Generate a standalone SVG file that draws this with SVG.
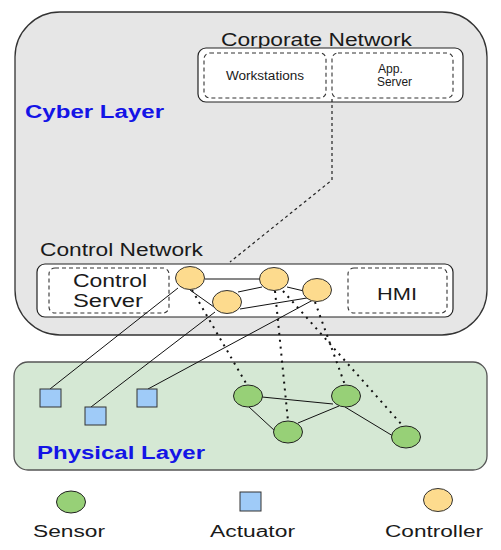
<svg xmlns="http://www.w3.org/2000/svg" width="501" height="550" viewBox="0 0 501 550">
<style>
.layer-cyber{fill:#e6e6e6;stroke:#333;stroke-width:1.3}
.layer-phys{fill:#d5e8d4;stroke:#555;stroke-width:1.3}
.box{fill:#fff;stroke:#222;stroke-width:1.2}
.dbox{fill:#fff;stroke:#333;stroke-width:1.1;stroke-dasharray:4 3}
.t{font-family:"Liberation Sans",Arial,sans-serif;fill:#1a1a1a}
.tb{font-family:"Liberation Sans",Arial,sans-serif;font-weight:bold;fill:#1414e6;font-size:18px}
.ctrl{fill:#fddb8e;stroke:#333;stroke-width:1}
.sens{fill:#97d077;stroke:#222;stroke-width:1}
.act{fill:#9fcbf8;stroke:#333;stroke-width:1}
.solid{stroke:#111;stroke-width:1;fill:none}
.dot{stroke:#111;stroke-width:2;fill:none;stroke-dasharray:2 5}
.dash{stroke:#222;stroke-width:1.2;fill:none;stroke-dasharray:3 3}
</style>
<g id="cyber-layer">
<rect class="layer-cyber" x="15" y="12" width="472" height="323" rx="45" ry="45"/>
<text class="tb" x="25" y="118" textLength="139" lengthAdjust="spacingAndGlyphs">Cyber Layer</text>
</g>
<g id="physical-layer">
<rect class="layer-phys" x="14" y="362" width="473" height="108" rx="14" ry="14"/>
<text class="tb" x="37" y="459" textLength="168" lengthAdjust="spacingAndGlyphs">Physical Layer</text>
</g>
<g id="corporate-network">
<text class="t" x="221" y="46" font-size="17.5" textLength="191" lengthAdjust="spacingAndGlyphs">Corporate Network</text>
<rect class="box" x="198" y="48" width="265" height="54" rx="8"/>
</g>
<g id="workstations">
<rect class="dbox" x="204" y="53" width="122" height="45" rx="6"/>
<text class="t" x="226" y="80" font-size="12" textLength="78" lengthAdjust="spacingAndGlyphs">Workstations</text>
</g>
<g id="app-server">
<rect class="dbox" x="332" y="53" width="121" height="45" rx="6"/>
<text class="t" x="378" y="73" font-size="12" textLength="25" lengthAdjust="spacingAndGlyphs">App.</text>
<text class="t" x="377" y="86" font-size="12" textLength="35" lengthAdjust="spacingAndGlyphs">Server</text>
</g>
<g id="control-network">
<text class="t" x="40" y="256" font-size="17.5" textLength="163" lengthAdjust="spacingAndGlyphs">Control Network</text>
<rect class="box" x="37" y="264" width="416" height="53" rx="8"/>
</g>
<g id="control-server">
<rect class="dbox" x="49" y="268" width="120" height="45" rx="6"/>
<text class="t" x="73" y="287" font-size="18" textLength="74" lengthAdjust="spacingAndGlyphs">Control</text>
<text class="t" x="73" y="307" font-size="18" textLength="70" lengthAdjust="spacingAndGlyphs">Server</text>
</g>
<g id="hmi">
<rect class="dbox" x="348" y="268" width="99" height="45" rx="6"/>
<text class="t" x="377" y="300" font-size="16" textLength="40" lengthAdjust="spacingAndGlyphs">HMI</text>
</g>
<g id="connectors">
<path class="dash" d="M332,99 V180 L230,262"/>
<line class="solid" x1="205" y1="279" x2="260" y2="279"/>
<line class="solid" x1="190" y1="290" x2="214" y2="307"/>
<line class="solid" x1="238" y1="292" x2="262" y2="287"/>
<line class="solid" x1="240" y1="309" x2="307" y2="298"/>
<line class="solid" x1="287" y1="287" x2="304" y2="291"/>
<line class="solid" x1="178" y1="288" x2="50" y2="389"/>
<line class="solid" x1="215" y1="312" x2="91" y2="407"/>
<line class="solid" x1="313" y1="300" x2="148" y2="389"/>
<line class="dot" x1="192" y1="290" x2="247" y2="385"/>
<line class="dot" x1="275" y1="291" x2="288" y2="421"/>
<line class="dot" x1="283" y1="291" x2="403" y2="426"/>
<line class="dot" x1="315" y1="302" x2="345" y2="385"/>
<line class="solid" x1="262" y1="397" x2="333" y2="404"/>
<line class="solid" x1="249" y1="407" x2="275" y2="431"/>
<line class="solid" x1="298" y1="423" x2="339" y2="406"/>
<line class="solid" x1="345" y1="407" x2="393" y2="436"/>
</g>
<g id="controller-1"><ellipse class="ctrl" cx="190" cy="278" rx="14.5" ry="11.5"/></g>
<g id="controller-2"><ellipse class="ctrl" cx="274" cy="279" rx="14.5" ry="11.5"/></g>
<g id="controller-3"><ellipse class="ctrl" cx="227" cy="302" rx="14.5" ry="11.5"/></g>
<g id="controller-4"><ellipse class="ctrl" cx="317" cy="290" rx="14.5" ry="11.5"/></g>
<g id="actuator-1"><rect class="act" x="40" y="389" width="21" height="18"/></g>
<g id="actuator-2"><rect class="act" x="85" y="407" width="21" height="18"/></g>
<g id="actuator-3"><rect class="act" x="137" y="389" width="20" height="18"/></g>
<g id="sensor-1"><ellipse class="sens" cx="248" cy="396" rx="14.5" ry="11"/></g>
<g id="sensor-2"><ellipse class="sens" cx="346" cy="396" rx="14.5" ry="11"/></g>
<g id="sensor-3"><ellipse class="sens" cx="288" cy="432" rx="14.5" ry="11"/></g>
<g id="sensor-4"><ellipse class="sens" cx="406" cy="437" rx="14.5" ry="11"/></g>
<g id="legend-sensor">
<ellipse class="sens" cx="71" cy="502" rx="14.5" ry="11"/>
<text class="t" x="33" y="537" font-size="16" textLength="72" lengthAdjust="spacingAndGlyphs">Sensor</text>
</g>
<g id="legend-actuator">
<rect class="act" x="240" y="492" width="21" height="19"/>
<text class="t" x="210" y="537" font-size="16" textLength="85" lengthAdjust="spacingAndGlyphs">Actuator</text>
</g>
<g id="legend-controller">
<ellipse class="ctrl" cx="438" cy="500" rx="14.5" ry="11.5"/>
<text class="t" x="385" y="537" font-size="16" textLength="98" lengthAdjust="spacingAndGlyphs">Controller</text>
</g>
</svg>
